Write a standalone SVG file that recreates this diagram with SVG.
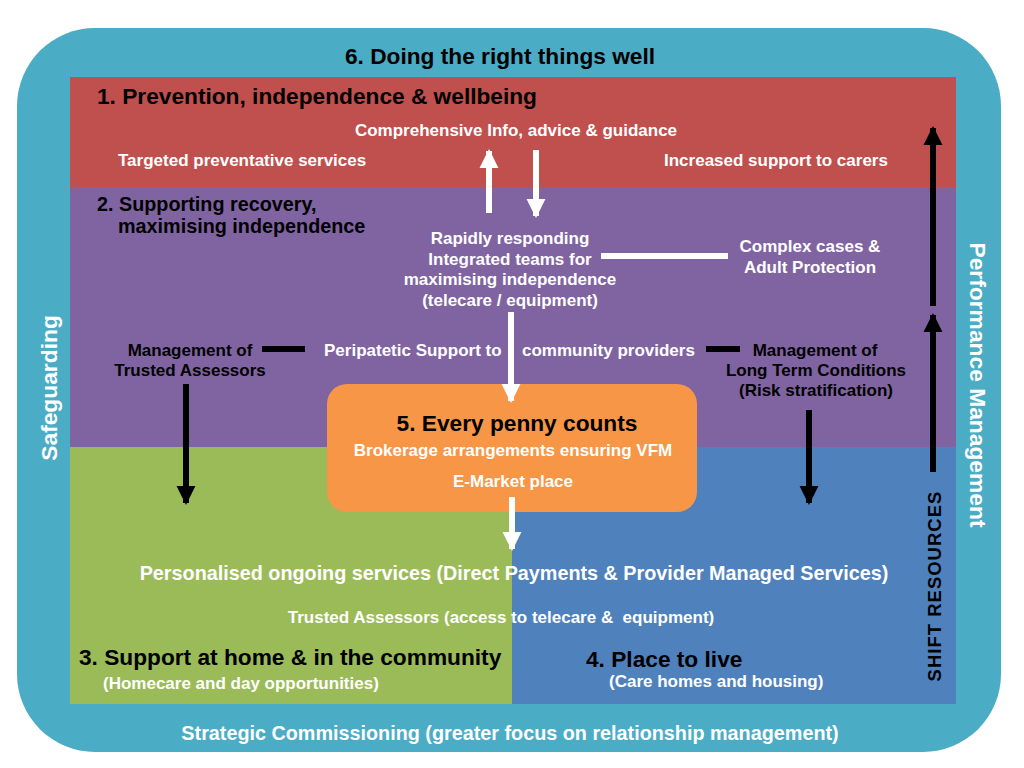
<svg xmlns="http://www.w3.org/2000/svg" width="1024" height="768" viewBox="0 0 1024 768">
<defs>
<style>
text{font-family:"Liberation Sans",Arial,sans-serif;font-weight:bold}
.h{font-size:22.7px;fill:#000}
.h2{font-size:19.8px;fill:#000}
.w{font-size:17px;fill:#fff}
.k{font-size:17px;fill:#000}
.wl{font-size:19.8px;fill:#fff}
.side{font-size:22.8px;fill:#fff}
.c{text-anchor:middle}
.wline{stroke:#fff;stroke-width:6;fill:none}
.bline{stroke:#000;stroke-width:6;fill:none}
</style>
<marker id="wa" viewBox="0 0 10 10" refX="9" refY="5" markerWidth="3.2" markerHeight="3.2" orient="auto" markerUnits="strokeWidth"><path d="M0,0 L10,5 L0,10 z" fill="#fff"/></marker>
<marker id="ba" viewBox="0 0 10 10" refX="9" refY="5" markerWidth="3.2" markerHeight="3.2" orient="auto" markerUnits="strokeWidth"><path d="M0,0 L10,5 L0,10 z" fill="#000"/></marker>
</defs>
<rect width="1024" height="768" fill="#fff"/>
<g id="frame">
<rect x="17" y="28" width="984" height="724" rx="78" ry="78" fill="#4BACC6"/>
<text class="h c" x="500" y="64">6. Doing the right things well</text>
<text class="wl c" x="510" y="740">Strategic Commissioning (greater focus on relationship management)</text>
<text class="side c" transform="translate(57,388) rotate(-90)">Safeguarding</text>
<text class="side c" transform="translate(970,385) rotate(90)">Performance Management</text>
</g>
<g id="prevention">
<rect x="70" y="77" width="886" height="110" fill="#C0504D"/>
<text class="h" x="97" y="104">1. Prevention, independence &amp; wellbeing</text>
<text class="w c" x="516" y="136">Comprehensive Info, advice &amp; guidance</text>
<text class="w" x="118" y="166">Targeted preventative services</text>
<text class="w" x="664" y="166">Increased support to carers</text>
</g>
<g id="recovery">
<rect x="70" y="187" width="886" height="260" fill="#8064A2"/>
<text class="h2" x="97" y="211">2. Supporting recovery,</text>
<text class="h2" x="118" y="233">maximising independence</text>
<text class="w c" x="510" y="244">Rapidly responding</text>
<text class="w c" x="510" y="265">Integrated teams for</text>
<text class="w c" x="510" y="285">maximising independence</text>
<text class="w c" x="510" y="306">(telecare / equipment)</text>
<text class="w c" x="810" y="252">Complex cases &amp;</text>
<text class="w c" x="810" y="273">Adult Protection</text>
<text class="k c" x="190" y="356">Management of</text>
<text class="k c" x="190" y="376">Trusted Assessors</text>
<text class="w" x="324" y="356">Peripatetic Support to</text>
<text class="w" x="522" y="356">community providers</text>
<text class="k c" x="815" y="356">Management of</text>
<text class="k c" x="816" y="376">Long Term Conditions</text>
<text class="k c" x="816" y="396">(Risk stratification)</text>
</g>
<g id="home">
<rect x="70" y="447" width="442" height="257" fill="#9BBB59"/>
<text class="h" x="79" y="665">3. Support at home &amp; in the community</text>
<text class="w" x="103" y="689">(Homecare and day opportunities)</text>
</g>
<g id="place">
<rect x="512" y="447" width="444" height="257" fill="#4F81BD"/>
<text class="h" x="586" y="667">4. Place to live</text>
<text class="w" x="609" y="687">(Care homes and housing)</text>
<text fill="#000" style="font-size:18.5px;letter-spacing:1px" text-anchor="middle" transform="translate(941,586) rotate(-90)">SHIFT RESOURCES</text>
</g>
<g id="shared">
<text class="wl c" x="514" y="580">Personalised ongoing services (Direct Payments &amp; Provider Managed Services)</text>
<text class="w c" x="501" y="623" xml:space="preserve" style="white-space:pre">Trusted Assessors (access to telecare &amp;  equipment)</text>
</g>
<g id="penny">
<rect x="327" y="384" width="370" height="128" rx="20" ry="20" fill="#F79646"/>
<text class="h c" x="517" y="431">5. Every penny counts</text>
<text class="w c" x="513" y="456">Brokerage arrangements ensuring VFM</text>
<text class="w c" x="513" y="487">E-Market place</text>
</g>
<g id="connectors">
<line class="wline" x1="489" y1="213" x2="489" y2="151" marker-end="url(#wa)"/>
<line class="wline" x1="536" y1="150" x2="536" y2="216" marker-end="url(#wa)"/>
<line class="wline" x1="601" y1="256" x2="728" y2="256"/>
<line class="wline" x1="511" y1="312" x2="511" y2="401" marker-end="url(#wa)"/>
<line class="wline" x1="512" y1="497" x2="512" y2="549" marker-end="url(#wa)"/>
<line class="bline" x1="262" y1="349" x2="305" y2="349"/>
<line class="bline" x1="706" y1="349" x2="740" y2="349"/>
<line class="bline" x1="186" y1="384" x2="186" y2="503" marker-end="url(#ba)"/>
<line class="bline" x1="809" y1="410" x2="809" y2="503" marker-end="url(#ba)"/>
<line class="bline" x1="933" y1="472" x2="933" y2="315" marker-end="url(#ba)"/>
<line class="bline" x1="933" y1="306" x2="933" y2="128" marker-end="url(#ba)"/>
</g>
</svg>
